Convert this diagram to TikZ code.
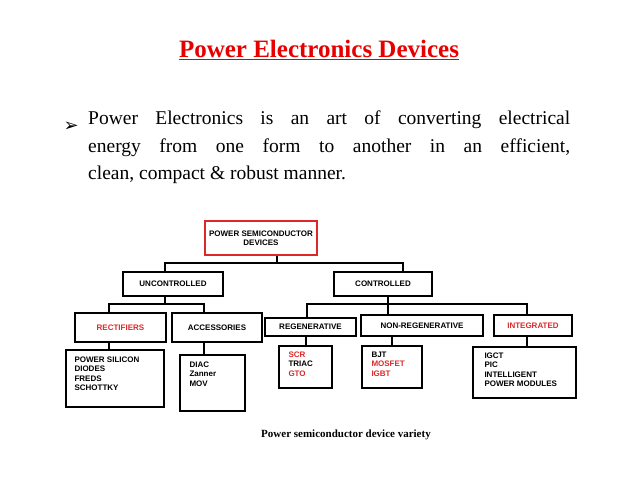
\documentclass[tikz,border=0pt]{standalone}
\usepackage{fontspec}
\setmainfont{Liberation Serif}
\newfontfamily\diag{Liberation Sans}
\newfontfamily\djvsym{DejaVu Sans}
\definecolor{tred}{RGB}{230,0,0}
\definecolor{bred}{RGB}{220,40,40}
\begin{document}
\begin{tikzpicture}[x=1pt,y=-1pt,
  box/.style={draw,line width=1.4pt,inner sep=0pt,font=\diag\bfseries\fontsize{8}{9.5}\selectfont},
  lsttext/.style={anchor=north west,align=left,inner sep=0pt,font=\diag\bfseries\fontsize{8}{9.5}\selectfont},
  wire/.style={line width=1.4pt}]
\useasboundingbox (0,0) rectangle (638,478);
\node[text=tred,font=\bfseries\fontsize{25}{29}\selectfont] (title) at (319,50) {\underline{Power Electronics Devices}};
\node[font=\djvsym\bfseries\fontsize{18}{20}\selectfont,anchor=base west] (bul) at (60,132) {➢};
\node[anchor=north west,text width=482pt,align=justify,inner sep=0pt,font=\fontsize{19.5}{27.5}\selectfont] (para) at (88,111)
 {Power Electronics is an art of converting electrical\linebreak energy from one form to another in an efficient,\linebreak clean, compact \& robust manner.};
% boxes
\node[box,draw=bred,minimum width=112pt,minimum height=34pt,align=center] (top) at (261,238) {POWER SEMICONDUCTOR\\DEVICES};
\node[box,minimum width=100pt,minimum height=24pt] (unc) at (173,284) {UNCONTROLLED};
\node[box,minimum width=98pt,minimum height=24pt] (con) at (383,284) {CONTROLLED};
\node[box,minimum width=91pt,minimum height=29pt,text=bred] (rec) at (120.5,327.5) {RECTIFIERS};
\node[box,minimum width=90pt,minimum height=29pt] (acc) at (217,327.5) {ACCESSORIES};
\node[box,minimum width=91pt,minimum height=18pt] (reg) at (310.5,327) {REGENERATIVE};
\node[box,minimum width=122pt,minimum height=21pt] (non) at (422,325.5) {NON-REGENERATIVE};
\node[box,minimum width=78pt,minimum height=21pt,text=bred] (int) at (533,325.5) {INTEGRATED};
\node[box,minimum width=98pt,minimum height=57pt,label={[lsttext,xshift=9pt,yshift=-7pt]north west:POWER SILICON\\DIODES\\FREDS\\SCHOTTKY}] (ps) at (115,378.5) {};
\node[box,minimum width=65pt,minimum height=56pt,label={[lsttext,xshift=10pt,yshift=-7pt]north west:DIAC\\Zanner\\MOV}] (diac) at (212.5,383) {};
\node[box,minimum width=53pt,minimum height=42pt,label={[lsttext,xshift=10pt,yshift=-6pt]north west:\textcolor{bred}{SCR}\\TRIAC\\\textcolor{bred}{GTO}}] (scr) at (305.5,367) {};
\node[box,minimum width=60pt,minimum height=42pt,label={[lsttext,xshift=10pt,yshift=-6pt]north west:BJT\\\textcolor{bred}{MOSFET}\\\textcolor{bred}{IGBT}}] (bjt) at (392,367) {};
\node[box,minimum width=103pt,minimum height=51pt,label={[lsttext,xshift=12pt,yshift=-6pt]north west:IGCT\\PIC\\INTELLIGENT\\POWER MODULES}] (igct) at (524.5,372.5) {};
\node[font=\bfseries\fontsize{11}{13}\selectfont] (cap) at (346,435) {Power semiconductor device variety};
% connectors
\coordinate (j1) at (277,263);
\coordinate (j2) at (165,304);
\coordinate (j3) at (388,304);
\draw[wire] (top.south -| j1) -- (j1);
\draw[wire] (unc.north -| j2) |- (j1) -| (con.north -| 403,0);
\draw[wire] (unc.south -| j2) -- (j2);
\draw[wire] (rec.north -| 109,0) |- (j2) -| (acc.north -| 204,0);
\draw[wire] (con.south -| j3) -- (non.north -| j3);
\draw[wire] (reg.north -| 307,0) |- (j3) -| (int.north -| 527,0);
\draw[wire] (rec.south -| 109,0) -- (ps.north -| 109,0);
\draw[wire] (acc.south -| 204,0) -- (diac.north -| 204,0);
\draw[wire] (reg.south -| 306,0) -- (scr.north -| 306,0);
\draw[wire] (non.south -| 392,0) -- (bjt.north -| 392,0);
\draw[wire] (int.south -| 527,0) -- (igct.north -| 527,0);
\end{tikzpicture}
\end{document}
